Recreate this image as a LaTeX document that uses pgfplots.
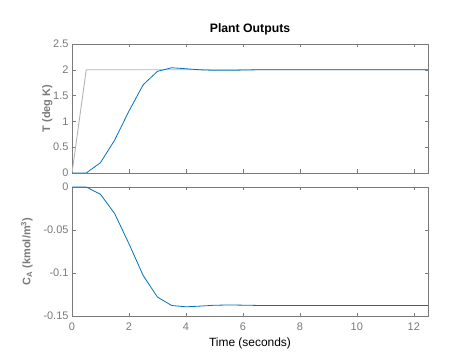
\documentclass[border=0pt]{standalone}
\usepackage{pgfplots}
\pgfplotsset{compat=1.18}
\usepackage{fontspec}
\setmainfont{Liberation Sans}
\definecolor{mblue}{HTML}{0072BD}
\definecolor{axgray}{HTML}{7A7A7A}
\definecolor{refgray}{HTML}{B3B3B3}
\begin{document}
\begin{tikzpicture}
\path[use as bounding box] (0bp,0bp) rectangle (474bp,355bp);
\pgfplotsset{
  every axis/.append style={
    scale only axis, width=356bp, height=129bp,
    xmin=0, xmax=12.5,
    xtick={0,2,4,6,8,10,12},
    axis line style={axgray},
    tick style={axgray, line width=0.5pt},
    major tick length=3.5bp,
    tick align=inside,
    tick pos=both,
    tick label style={font=\fontsize{11}{13}\selectfont, text=axgray},
    xticklabel style={yshift=-3bp},
    label style={font=\fontsize{11}{13}\selectfont},
    /pgf/number format/assume math mode=true,
    every axis plot/.append style={line width=0.8pt},
  }
}
\begin{axis}[
  at={(72bp,182bp)}, anchor=south west,
  ymin=0, ymax=2.5,
  ytick={0,0.5,1,1.5,2,2.5},
  yticklabels={0,0.5,1,1.5,2,2.5},
  xticklabels={},
  ylabel={\bfseries T (deg K)}, ylabel style={text=axgray, yshift=-6bp},
  title={\bfseries Plant Outputs},
  title style={font=\fontsize{12.3}{14}\selectfont\bfseries, yshift=-1bp},
]
\addplot[refgray, line width=0.9pt] coordinates {(0,0) (0.5,2) (12.5,2)};
\addplot[mblue] coordinates {
(0,0) (0.5,0) (1,0.2) (1.5,0.64) (2,1.2) (2.5,1.71) (3,1.97) (3.5,2.04)
(4,2.02) (4.5,2.0) (5,1.99) (5.5,1.99) (6,1.995) (6.5,2.0) (7,2.0) (7.5,2.0)
(8,2.0) (8.5,2.0) (9,2.0) (9.5,2.0) (10,2.0) (10.5,2.0) (11,2.0) (11.5,2.0) (12,2.0) (12.5,2.0)};
\end{axis}
\begin{axis}[
  at={(72bp,39bp)}, anchor=south west,
  ymin=-0.15, ymax=0,
  ytick={-0.15,-0.1,-0.05,0},
  yticklabels={-0.15,-0.1,-0.05,0},
  xticklabels={0,2,4,6,8,10,12},
  ylabel={\bfseries C\textsubscript{A} (kmol/m\textsuperscript{3})}, ylabel style={text=axgray, yshift=4bp},
  xlabel={Time (seconds)}, xlabel style={font=\fontsize{12}{14}\selectfont, yshift=-1bp},
]
\addplot[mblue] coordinates {
(0,0) (0.5,0) (1,-0.0085) (1.5,-0.031) (2,-0.066) (2.5,-0.103) (3,-0.128) (3.5,-0.1378)
(4,-0.1393) (4.5,-0.1385) (5,-0.1375) (5.5,-0.1372) (6,-0.1374) (6.5,-0.1377) (7,-0.1378) (7.5,-0.1378)
(8,-0.1378) (8.5,-0.1378) (9,-0.1378) (9.5,-0.1378) (10,-0.1378) (10.5,-0.1378) (11,-0.1378) (11.5,-0.1378) (12,-0.1378) (12.5,-0.1378)};
\end{axis}
\end{tikzpicture}
\end{document}
